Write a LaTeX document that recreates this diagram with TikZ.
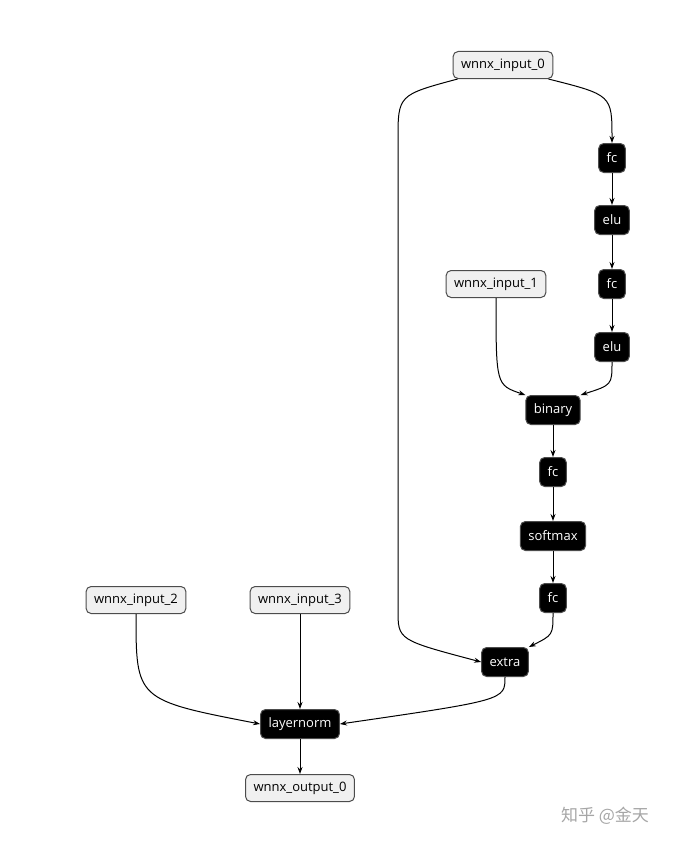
\documentclass[tikz,border=0pt]{standalone}
\usepackage{fontspec}
\setmainfont{Open Sans}
\newfontfamily\cjk{Noto Sans CJK SC}
\usetikzlibrary{arrows.meta}
\begin{document}
\begin{tikzpicture}[x=1pt,y=-1pt,
  io/.style={draw=black!70,fill=black!6,rounded corners=5pt,minimum height=27pt,inner xsep=8pt,font=\fontsize{13}{15}\selectfont,line width=1pt},
  op/.style={draw=black!70,fill=black,text=white,rounded corners=5pt,minimum height=29pt,inner xsep=8pt,font=\fontsize{13}{15}\selectfont,line width=1pt},
  e/.style={draw,line width=1pt,-{Stealth[length=7pt,width=5pt]}}]
\useasboundingbox (0,0) rectangle (676,843);
\node[io] (i0) at (503,65) {wnnx\_input\_0};
\node[op] (fc1) at (612,158) {fc};
\node[op] (elu1) at (612,220) {elu};
\node[op] (fc2) at (612,284) {fc};
\node[op] (elu2) at (612,347) {elu};
\node[io] (i1) at (496,284) {wnnx\_input\_1};
\node[op] (bin) at (553,410) {binary};
\node[op] (fc3) at (553,472) {fc};
\node[op] (sm) at (553,536) {softmax};
\node[op] (fc4) at (553,598) {fc};
\node[op] (ex) at (505,662) {extra};
\node[io] (i2) at (136,600) {wnnx\_input\_2};
\node[io] (i3) at (300,600) {wnnx\_input\_3};
\node[op] (ln) at (300,724) {layernorm};
\node[io] (o0) at (300,788) {wnnx\_output\_0};
\node[text=black!35,font=\cjk\fontsize{17}{19}\selectfont] (wm) at (605,816) {知乎 @金天};
\draw[e] (i0.south east) ++(-5,0) .. controls (612,95) .. (fc1.north);
\draw[e] (fc1) -- (elu1);
\draw[e] (elu1) -- (fc2);
\draw[e] (fc2) -- (elu2);
\draw[e] (elu2.south) .. controls (612,385) .. (bin.north east);
\draw[e] (i1.south) ++(0,0) .. controls (496,385) .. (bin.north west);
\draw[e] (bin) -- (fc3);
\draw[e] (fc3) -- (sm);
\draw[e] (sm) -- (fc4);
\draw[e] (fc4.south) .. controls (553,635) .. (ex.north east);
\draw[e] (i0.south west) ++(5,0) .. controls (398,95) and (398,95) .. (398,140) -- (398,610) .. controls (398,640) .. (ex.west);
\draw[e] (i2.south) .. controls (136,700) .. (ln.west);
\draw[e] (i3) -- (ln);
\draw[e] (ex.south) .. controls (505,700) .. (ln.east);
\draw[e] (ln) -- (o0);
\end{tikzpicture}
\end{document}
